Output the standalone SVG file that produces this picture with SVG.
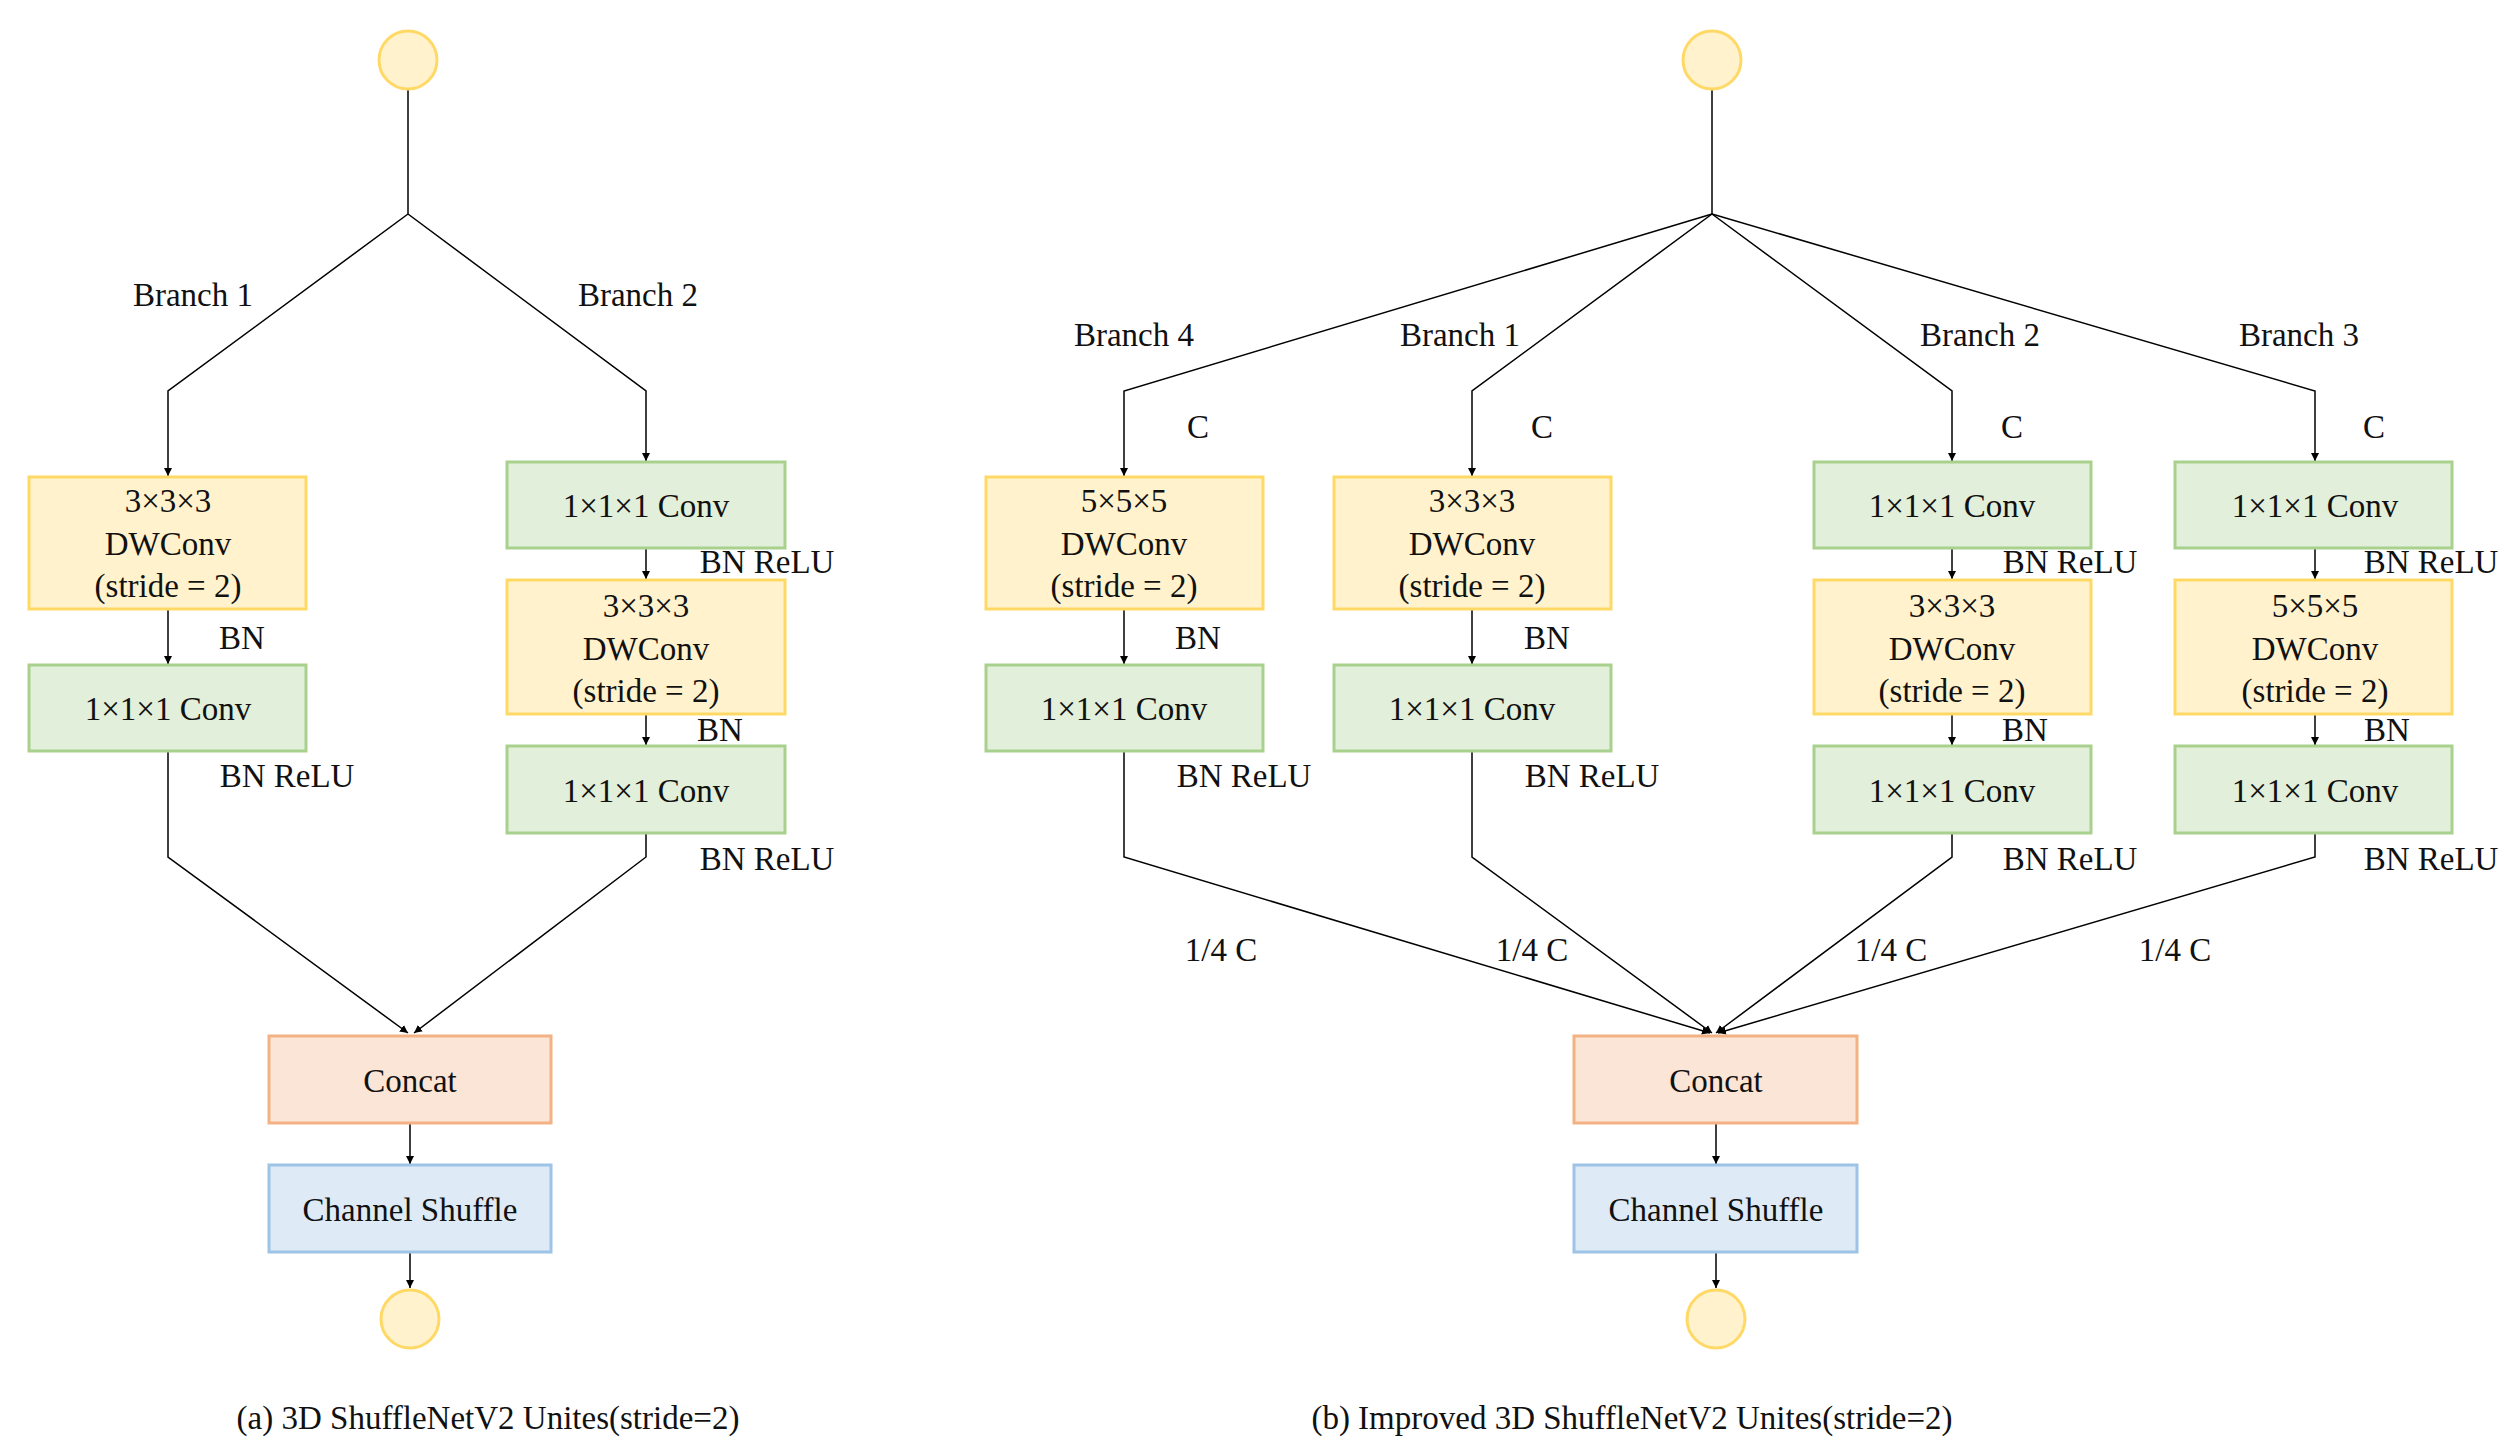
<svg xmlns="http://www.w3.org/2000/svg" width="2513" height="1454" viewBox="0 0 2513 1454">
<defs>
<style>
text{font-family:"Liberation Serif","DejaVu Serif",serif;font-size:33px;fill:#111}
.c{text-anchor:middle}
.y{fill:#fff2cc;stroke:#ffd966;stroke-width:3}
.g{fill:#e2efda;stroke:#a9d18e;stroke-width:3}
.o{fill:#fbe5d6;stroke:#f4b183;stroke-width:3}
.b{fill:#deebf7;stroke:#9dc3e6;stroke-width:3}
.l{fill:none;stroke:#000;stroke-width:1.5;marker-end:url(#a)}
.n{fill:none;stroke:#000;stroke-width:1.5}
</style>
<marker id="a" viewBox="0 0 10 10" refX="10" refY="5" markerWidth="8" markerHeight="8" markerUnits="userSpaceOnUse" orient="auto"><path d="M0,0L10,5L0,10z" fill="#000"/></marker>
</defs>
<rect width="2513" height="1454" fill="#fff"/>
<g id="connectors">
<path class="n" d="M408,89V214"/>
<path class="l" d="M408,214L168,391V476"/>
<path class="l" d="M408,214L646,391V461"/>
<path class="l" d="M168,609V664"/>
<path class="l" d="M646,548V579"/>
<path class="l" d="M646,714V745"/>
<path class="l" d="M168,751V857L408,1033"/>
<path class="l" d="M646,833V857L414,1033"/>
<path class="l" d="M410,1123V1164"/>
<path class="l" d="M410,1252V1288"/>
<path class="n" d="M1712,89V214"/>
<path class="l" d="M1712,214L1124,391V476"/>
<path class="l" d="M1712,214L1472,391V476"/>
<path class="l" d="M1712,214L1952,391V461"/>
<path class="l" d="M1712,214L2315,391V461"/>
<path class="l" d="M1124,609V664"/>
<path class="l" d="M1472,609V664"/>
<path class="l" d="M1952,548V579"/>
<path class="l" d="M2315,548V579"/>
<path class="l" d="M1952,714V745"/>
<path class="l" d="M2315,714V745"/>
<path class="l" d="M1124,751V857L1710,1033"/>
<path class="l" d="M1472,751V857L1712,1033"/>
<path class="l" d="M1952,833V857L1716,1033"/>
<path class="l" d="M2315,833V857L1718,1033"/>
<path class="l" d="M1716,1123V1164"/>
<path class="l" d="M1716,1252V1288"/>
</g>
<g id="labels">
<text x="193" y="306" class="c">Branch 1</text>
<text x="638" y="306" class="c">Branch 2</text>
<text x="242" y="649" class="c">BN</text>
<text x="287" y="787" class="c">BN ReLU</text>
<text x="767" y="573" class="c">BN ReLU</text>
<text x="720" y="741" class="c">BN</text>
<text x="767" y="870" class="c">BN ReLU</text>
<text x="1134" y="346" class="c">Branch 4</text>
<text x="1460" y="346" class="c">Branch 1</text>
<text x="1980" y="346" class="c">Branch 2</text>
<text x="2299" y="346" class="c">Branch 3</text>
<text x="1198" y="438" class="c">C</text>
<text x="1542" y="438" class="c">C</text>
<text x="2012" y="438" class="c">C</text>
<text x="2374" y="438" class="c">C</text>
<text x="1198" y="649" class="c">BN</text>
<text x="1547" y="649" class="c">BN</text>
<text x="1244" y="787" class="c">BN ReLU</text>
<text x="1592" y="787" class="c">BN ReLU</text>
<text x="2070" y="573" class="c">BN ReLU</text>
<text x="2431" y="573" class="c">BN ReLU</text>
<text x="2025" y="741" class="c">BN</text>
<text x="2387" y="741" class="c">BN</text>
<text x="2070" y="870" class="c">BN ReLU</text>
<text x="2431" y="870" class="c">BN ReLU</text>
<text x="1221" y="961" class="c">1/4 C</text>
<text x="1532" y="961" class="c">1/4 C</text>
<text x="1891" y="961" class="c">1/4 C</text>
<text x="2175" y="961" class="c">1/4 C</text>
<text x="488" y="1429" class="c">(a) 3D ShuffleNetV2 Unites(stride=2)</text>
<text x="1632" y="1429" class="c">(b) Improved 3D ShuffleNetV2 Unites(stride=2)</text>
</g>
<g id="a_in"><circle cx="408" cy="60" r="29" class="y"/></g>
<g id="a_dw"><rect x="29" y="477" width="277" height="132" class="y"/><text x="168" y="512" class="c">3×3×3</text><text x="168" y="555" class="c">DWConv</text><text x="168" y="597" class="c">(stride = 2)</text></g>
<g id="a_c1"><rect x="29" y="665" width="277" height="86" class="g"/><text x="168" y="720" class="c">1×1×1 Conv</text></g>
<g id="a_b1"><rect x="507" y="462" width="278" height="86" class="g"/><text x="646" y="517" class="c">1×1×1 Conv</text></g>
<g id="a_b2"><rect x="507" y="580" width="278" height="134" class="y"/><text x="646" y="617" class="c">3×3×3</text><text x="646" y="660" class="c">DWConv</text><text x="646" y="702" class="c">(stride = 2)</text></g>
<g id="a_b3"><rect x="507" y="746" width="278" height="87" class="g"/><text x="646" y="802" class="c">1×1×1 Conv</text></g>
<g id="a_concat"><rect x="269" y="1036" width="282" height="87" class="o"/><text x="410" y="1092" class="c">Concat</text></g>
<g id="a_shuffle"><rect x="269" y="1165" width="282" height="87" class="b"/><text x="410" y="1221" class="c">Channel Shuffle</text></g>
<g id="a_out"><circle cx="410" cy="1319" r="29" class="y"/></g>
<g id="b_in"><circle cx="1712" cy="60" r="29" class="y"/></g>
<g id="b4_dw"><rect x="986" y="477" width="277" height="132" class="y"/><text x="1124" y="512" class="c">5×5×5</text><text x="1124" y="555" class="c">DWConv</text><text x="1124" y="597" class="c">(stride = 2)</text></g>
<g id="b4_c"><rect x="986" y="665" width="277" height="86" class="g"/><text x="1124" y="720" class="c">1×1×1 Conv</text></g>
<g id="b1_dw"><rect x="1334" y="477" width="277" height="132" class="y"/><text x="1472" y="512" class="c">3×3×3</text><text x="1472" y="555" class="c">DWConv</text><text x="1472" y="597" class="c">(stride = 2)</text></g>
<g id="b1_c"><rect x="1334" y="665" width="277" height="86" class="g"/><text x="1472" y="720" class="c">1×1×1 Conv</text></g>
<g id="b2_c1"><rect x="1814" y="462" width="277" height="86" class="g"/><text x="1952" y="517" class="c">1×1×1 Conv</text></g>
<g id="b2_dw"><rect x="1814" y="580" width="277" height="134" class="y"/><text x="1952" y="617" class="c">3×3×3</text><text x="1952" y="660" class="c">DWConv</text><text x="1952" y="702" class="c">(stride = 2)</text></g>
<g id="b2_c2"><rect x="1814" y="746" width="277" height="87" class="g"/><text x="1952" y="802" class="c">1×1×1 Conv</text></g>
<g id="b3_c1"><rect x="2175" y="462" width="277" height="86" class="g"/><text x="2315" y="517" class="c">1×1×1 Conv</text></g>
<g id="b3_dw"><rect x="2175" y="580" width="277" height="134" class="y"/><text x="2315" y="617" class="c">5×5×5</text><text x="2315" y="660" class="c">DWConv</text><text x="2315" y="702" class="c">(stride = 2)</text></g>
<g id="b3_c2"><rect x="2175" y="746" width="277" height="87" class="g"/><text x="2315" y="802" class="c">1×1×1 Conv</text></g>
<g id="b_concat"><rect x="1574" y="1036" width="283" height="87" class="o"/><text x="1716" y="1092" class="c">Concat</text></g>
<g id="b_shuffle"><rect x="1574" y="1165" width="283" height="87" class="b"/><text x="1716" y="1221" class="c">Channel Shuffle</text></g>
<g id="b_out"><circle cx="1716" cy="1319" r="29" class="y"/></g>
</svg>
